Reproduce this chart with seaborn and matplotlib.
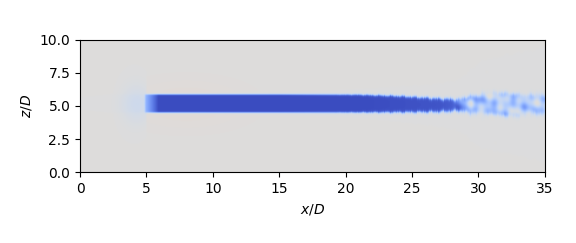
import numpy as np
import matplotlib
matplotlib.use("Agg")
import matplotlib.pyplot as plt
import seaborn as sns

# Jet description
x_stations = [5.0, 15.0, 21.0, 24.0, 27.0, 28.5, 30.0, 32.0, 35.0]
jet_top = [5.84, 5.84, 5.82, 5.72, 5.52, 5.45, 5.85, 5.9, 5.8]
jet_bottom = [4.47, 4.47, 4.47, 4.48, 4.52, 4.6, 4.35, 4.25, 4.35]
core_value = [-1.0, -1.0, -1.0, -0.98, -0.96, -0.9, -0.6, -0.55, -0.5]
edge_soft = [0.03, 0.03, 0.04, 0.05, 0.06, 0.07, 0.1, 0.1, 0.1]
x_ticks = [0, 5, 10, 15, 20, 25, 30, 35]
z_ticks = [0.0, 2.5, 5.0, 7.5, 10.0]

nx, nz = 1050, 300
x = np.linspace(0, 35, nx)
z = np.linspace(0, 10, nz)
X, Z = np.meshgrid(x, z)

top = np.interp(X, x_stations, jet_top)
bot = np.interp(X, x_stations, jet_bottom)
cv = np.interp(X, x_stations, core_value)
sf = np.interp(X, x_stations, edge_soft)
zc = 0.5 * (top + bot)
hw = 0.5 * (top - bot)

# ragged edges downstream (deterministic texture)
rag = np.clip((X - 19) / 9, 0, 1)
hw = hw + rag * (0.05 * np.sin(7.3 * X) + 0.04 * np.sin(13.7 * X + 1.3)
                 + 0.03 * np.sin(29.1 * X + 0.4) + 0.03 * np.sin(41.9 * X + 2.1))
dz = np.abs(Z - zc)
prof = 1.0 / (1.0 + np.exp((dz - hw) / sf))
# patchy breakup after x~28
patch = np.clip((X - 28.0) / 1.5, 0, 1)
blob = (0.55 + 0.22 * np.sin(2.3 * X + 3.7 * Z + 0.3)
        + 0.18 * np.sin(5.1 * X - 2.9 * Z + 1.9)
        + 0.15 * np.sin(1.3 * X + 7.3 * Z + 4.2)
        + 0.12 * np.sin(8.7 * X + 1.1 * Z + 0.7))
prof = prof * (1 - patch + patch * np.clip(blob, 0, 1.2))
# entrance ramp
ramp = np.clip((X - 4.9) / 1.0, 0, 1)
start = 1.0 / (1.0 + np.exp(-(X - 4.9) / 0.04))
field = cv * prof * start * (0.45 + 0.55 * ramp)
# faint halo near injection and slight warm tint
halo = -0.11 * np.exp(-(((X - 4.3) / 1.2) ** 2 + ((Z - 5.1) / 1.5) ** 2)) * (X < 5.0)
warm = 0.035 * np.exp(-(((X - 8) / 5) ** 2 + ((Z - 5.1) / 2.0) ** 2)) * (1 - prof)
field = field + halo + warm

cmap = sns.color_palette("coolwarm", as_cmap=True)

fig = plt.figure(figsize=(5.76, 2.43), dpi=100)
ax = fig.add_axes([0.139, 0.29, 0.807, 0.548])
ax.imshow(field, extent=[0, 35, 0, 10], origin="lower", cmap=cmap, vmin=-1, vmax=1,
          aspect="equal", interpolation="antialiased")
ax.set_xticks(x_ticks)
ax.set_yticks(z_ticks)
ax.set_xlim(0, 35)
ax.set_ylim(0, 10)
ax.set_xlabel("$x/D$")
ax.set_ylabel("$z/D$")
fig.savefig("out.png", dpi=100)
